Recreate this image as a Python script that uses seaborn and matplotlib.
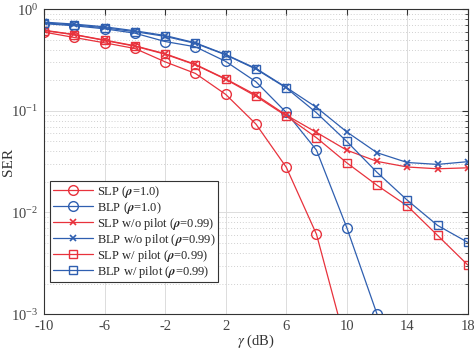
import numpy as np
import pandas as pd
import matplotlib
matplotlib.use("Agg")
import matplotlib.pyplot as plt
import seaborn as sns
from matplotlib.ticker import LogLocator, NullFormatter

gamma_db = [-10, -8, -6, -4, -2, 0, 2, 4, 6, 8, 10, 12, 14, 16, 18]

slp_rho1 = [0.594, 0.526, 0.466, 0.41, 0.303, 0.233, 0.145, 0.074, 0.0279, 0.0061, 0.00047]
blp_rho1 = [0.72, 0.686, 0.64, 0.58, 0.48, 0.426, 0.306, 0.193, 0.0964, 0.041, 0.0071, 0.001]
slp_nopilot = [0.62, 0.563, 0.496, 0.436, 0.364, 0.286, 0.206, 0.143, 0.0907, 0.0613, 0.041, 0.0318, 0.028, 0.0269, 0.0275]
blp_nopilot = [0.745, 0.712, 0.67, 0.612, 0.55, 0.466, 0.358, 0.261, 0.17, 0.108, 0.062, 0.0387, 0.031, 0.0297, 0.0316]
slp_pilot = [0.615, 0.56, 0.492, 0.432, 0.36, 0.283, 0.204, 0.139, 0.089, 0.0543, 0.0308, 0.0185, 0.0116, 0.00595, 0.00304]
blp_pilot = [0.73, 0.70, 0.655, 0.60, 0.54, 0.46, 0.355, 0.257, 0.168, 0.0956, 0.05, 0.0248, 0.0132, 0.00746, 0.00508]

labels = [
    r"SLP ($\boldsymbol{\rho}$=1.0)",
    r"BLP ($\boldsymbol{\rho}$=1.0)",
    r"SLP w/o pilot ($\boldsymbol{\rho}$=0.99)",
    r"BLP w/o pilot ($\boldsymbol{\rho}$=0.99)",
    r"SLP w/ pilot ($\boldsymbol{\rho}$=0.99)",
    r"BLP w/ pilot ($\boldsymbol{\rho}$=0.99)",
]
series = [slp_rho1, blp_rho1, slp_nopilot, blp_nopilot, slp_pilot, blp_pilot]

RED = "#e8323c"
BLUE = "#2f5fb0"
colors = [RED, BLUE, RED, BLUE, RED, BLUE]
markers = ["o", "o", "x", "x", "s", "s"]
msizes = [7, 7, 5, 5, 6, 6]

sns.set_style("white")
plt.rcParams["font.family"] = ["Liberation Serif", "DejaVu Serif"]
plt.rcParams["mathtext.fontset"] = "stix"
plt.rcParams["axes.unicode_minus"] = False

fig = plt.figure(figsize=(4.74, 3.51), dpi=100)
ax = fig.add_axes([0.093, 0.105, 0.894, 0.869])

for lab, vals, c, m, ms in zip(labels, series, colors, markers, msizes):
    df = pd.DataFrame({"x": gamma_db[:len(vals)], "y": vals})
    kw = dict(markerfacecolor="none", markeredgecolor=c, markeredgewidth=1.0)
    if m == "x":
        kw = dict(markeredgecolor=c, markeredgewidth=1.2)
    sns.lineplot(data=df, x="x", y="y", ax=ax, color=c, marker=m, markersize=ms,
                 linewidth=0.9, label=lab, **kw)

ax.set_yscale("log")
ax.set_xlim(-10, 18)
ax.set_ylim(1e-3, 1)
ax.set_xticks([-10, -6, -2, 2, 6, 10, 14, 18])
ax.yaxis.set_minor_locator(LogLocator(base=10, subs=np.arange(2, 10)))
ax.yaxis.set_minor_formatter(NullFormatter())

ax.grid(True, which="major", color="#dcdcdc", linewidth=0.7, linestyle="-")
ax.grid(True, which="minor", axis="y", color="#d0d0d0", linewidth=0.7, linestyle=(0, (1, 2)))
ax.set_axisbelow(True)

for sp in ax.spines.values():
    sp.set_color("#333333")
    sp.set_linewidth(0.8)
ax.tick_params(which="both", direction="in", top=True, right=True, colors="#333333",
               labelcolor="#444444", labelsize=10.5)
ax.tick_params(which="major", length=4, pad=4)
ax.tick_params(which="minor", length=2)

ax.set_xlabel(r"$\gamma$ (dB)", fontsize=10.5, color="#333333")
ax.xaxis.set_label_coords(0.5, -0.062)
ax.set_ylabel("SER", fontsize=11, color="#333333")
ax.yaxis.set_label_coords(-0.068, 0.5)

leg = ax.legend(loc="lower left", bbox_to_anchor=(0.015, 0.105), fontsize=9,
                frameon=True, fancybox=False, framealpha=1, edgecolor="#333333",
                handlelength=3.2, borderpad=0.2, labelspacing=0.0, handletextpad=0.3,
                borderaxespad=0.0)
leg.get_frame().set_linewidth(0.8)

fig.savefig("out.png", dpi=100)
